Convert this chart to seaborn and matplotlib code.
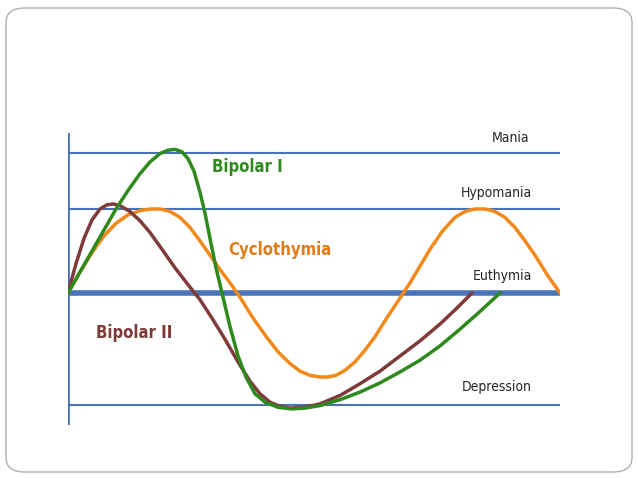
import matplotlib
matplotlib.use('Agg')
import matplotlib.pyplot as plt
import seaborn as sns
import pandas as pd
from matplotlib.patches import FancyBboxPatch

# curves (x in pixel units, y in mood levels: 0 = euthymia, 1 = hypomania)
bp1_x = [68, 80, 92, 104, 116, 128, 140, 150, 160, 168, 175, 182, 188, 194, 200, 205, 210, 216, 222, 230, 238, 246, 255, 265, 278, 292, 305, 320, 340, 360, 380, 400, 420, 440, 460, 480, 500]
bp1_y = [0, 0.25, 0.5, 0.75, 1.0, 1.22, 1.42, 1.56, 1.66, 1.70, 1.71, 1.68, 1.6, 1.45, 1.2, 0.95, 0.65, 0.3, 0, -0.4, -0.75, -1.0, -1.2, -1.3, -1.36, -1.38, -1.37, -1.34, -1.27, -1.18, -1.07, -0.94, -0.8, -0.63, -0.43, -0.22, 0]
bp2_x = [68, 76, 84, 92, 100, 107, 113, 120, 130, 140, 150, 162, 175, 188, 200, 212, 225, 238, 250, 260, 270, 280, 290, 305, 320, 340, 360, 380, 400, 420, 440, 456, 472]
bp2_y = [0, 0.35, 0.65, 0.87, 1.0, 1.05, 1.06, 1.04, 0.97, 0.86, 0.72, 0.52, 0.3, 0.1, -0.08, -0.3, -0.55, -0.82, -1.05, -1.2, -1.3, -1.35, -1.37, -1.36, -1.32, -1.22, -1.08, -0.93, -0.75, -0.57, -0.37, -0.19, 0]
cyc_x = [68, 80, 92, 104, 116, 128, 140, 150, 160, 170, 180, 190, 200, 210, 220, 230, 240, 252, 265, 278, 290, 300, 310, 320, 328, 336, 345, 355, 365, 375, 385, 395, 410, 420, 430, 442, 455, 465, 475, 485, 495, 505, 515, 525, 535, 547, 560]
cyc_y = [0, 0.25, 0.48, 0.68, 0.83, 0.93, 0.98, 1.0, 1.0, 0.97, 0.9, 0.78, 0.62, 0.45, 0.28, 0.12, -0.05, -0.28, -0.5, -0.7, -0.84, -0.93, -0.98, -1.0, -1.0, -0.98, -0.92, -0.82, -0.68, -0.52, -0.33, -0.15, 0.12, 0.32, 0.52, 0.73, 0.9, 0.97, 1.0, 1.0, 0.97, 0.9, 0.78, 0.62, 0.45, 0.22, 0]

levels = ['Mania', 'Hypomania', 'Euthymia', 'Depression']
level_y = [1.67, 1.0, 0.0, -1.33]

sns.set_style('white')
plt.rcParams['font.family'] = ['DejaVu Sans']

fig = plt.figure(figsize=(6.38, 4.78), dpi=100)
fig.patches.append(FancyBboxPatch((6 / 638, 6 / 478), 626 / 638, 464 / 478,
                                  boxstyle='round,pad=0,rounding_size=0.03',
                                  transform=fig.transFigure, fill=False,
                                  edgecolor='#b0b0b0', linewidth=1))
ax = fig.add_axes([68 / 638, 1 - 425 / 478, (560 - 68) / 638, (425 - 133) / 478])
ax.set_xlim(68, 560)
ax.set_ylim(-(425 - 293) / 84, (293 - 133) / 84)
ax.axis('off')
blue = '#4a72b8'
ax.plot([68, 68], [-(425 - 293) / 84, (293 - 133) / 84], color=blue, lw=2)
for name, y in zip(levels, level_y):
    ax.axhline(y, color=blue, lw=4 if y == 0 else 1.5, zorder=1)

line_kw = dict(lw=2.5, sort=False, solid_joinstyle='round', solid_capstyle='round')
sns.lineplot(data=pd.DataFrame({'x': cyc_x, 'y': cyc_y}), x='x', y='y', ax=ax, color='#f28a1b', **line_kw)
sns.lineplot(data=pd.DataFrame({'x': bp2_x, 'y': bp2_y}), x='x', y='y', ax=ax, color='#7f3a3a', **line_kw)
sns.lineplot(data=pd.DataFrame({'x': bp1_x, 'y': bp1_y}), x='x', y='y', ax=ax, color='#2f8a1e', **line_kw)

kw = dict(fontstretch='condensed', fontsize=10, ha='center', va='center')
ax.text(511, (293 - 138) / 84, 'Mania', **kw)
ax.text(496, (293 - 193) / 84, 'Hypomania', **kw)
ax.text(502, (293 - 276) / 84, 'Euthymia', **kw)
ax.text(497, (293 - 387) / 84, 'Depression', **kw)
bk = dict(fontstretch='condensed', fontsize=12, fontweight='bold', ha='left', va='center')
ax.text(212, (293 - 167) / 84, 'Bipolar I', color='#2f8a1e', **bk)
ax.text(228, (293 - 250) / 84, 'Cyclothymia', color='#e07d18', **bk)
ax.text(96, (293 - 333) / 84, 'Bipolar II', color='#7f3a3a', **bk)

fig.savefig('out.png', dpi=100)
